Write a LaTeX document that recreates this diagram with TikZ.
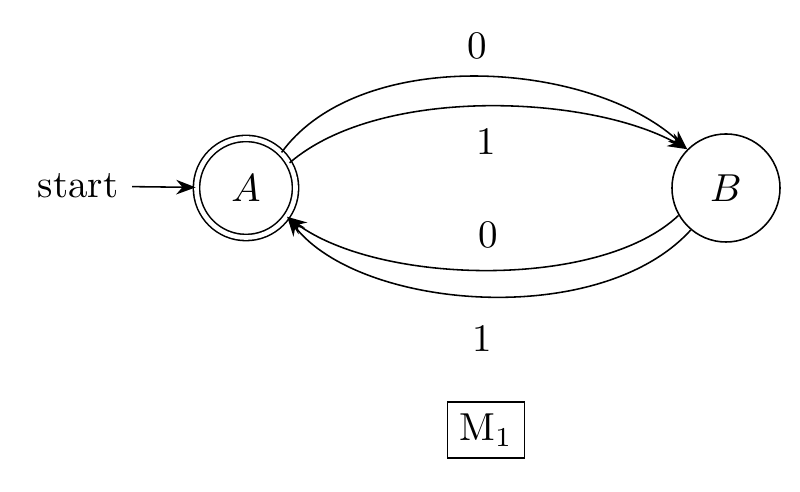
\documentclass[tikz,border=0pt]{standalone}
\usetikzlibrary{arrows.meta}
\begin{document}
\begin{tikzpicture}[x=0.2564pt,y=-0.2564pt,
  st/.style={circle,draw,minimum size=27.7pt,inner sep=0pt},
  acc/.style={circle,draw,double,double distance=1.2pt,minimum size=25.4pt,inner sep=0pt},
  tr/.style={-{Stealth[length=5pt]}},
  lab/.style={font=\normalsize}]
\useasboundingbox (0,0) rectangle (800,492);
\node[acc] (A) at (246,188) {$A$};
\node[st] (B) at (726,188) {$B$};
\node (s) at (78,186) {start};
\draw[tr] (s) -- (A);
\draw[tr] (A.45) .. controls (360,45) and (590,60) .. node[above=1pt,pos=0.5] {0} (B.135);
\draw[tr] (A.30) .. controls (380,85) and (590,95) .. node[below=2pt,pos=0.5] {1} (B.135);
\draw[tr] (B.210) .. controls (600,290) and (380,285) .. node[above=2pt,pos=0.5] {0} (A.-35);
\draw[tr] (B.230) .. controls (600,330) and (360,310) .. node[below=4pt,pos=0.5] {1} (A.-35);
\node[draw,inner sep=3pt] (M) at (486,430) {M$_1$};
\end{tikzpicture}
\end{document}
